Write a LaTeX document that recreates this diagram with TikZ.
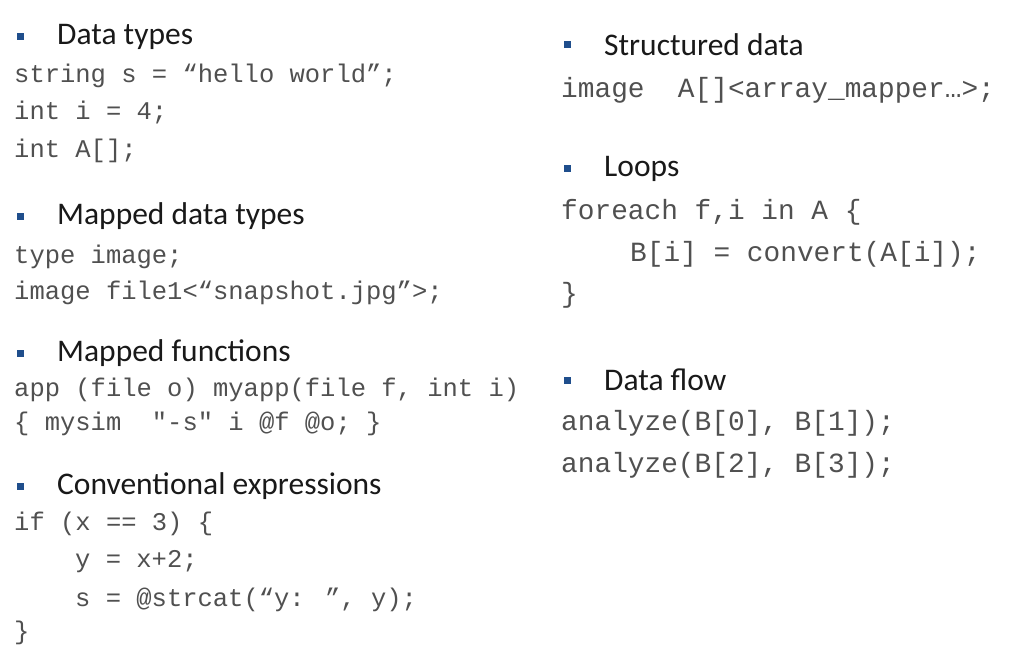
\documentclass[tikz,border=0pt]{standalone}
\usepackage{fontspec}
\setmainfont{Carlito}
\newfontfamily\codef{Liberation Mono}
\definecolor{bul}{HTML}{1F4E8C}
\definecolor{codec}{HTML}{505050}
\begin{document}
\begin{tikzpicture}[x=1pt,y=-1pt,
  head/.style={anchor=west,inner sep=0pt,font=\fontsize{31.5}{32}\selectfont,text=black!90},
  bl/.style={fill=bul,minimum size=7pt,inner sep=0pt},
  cl/.style={anchor=west,inner sep=0pt,font=\codef\fontsize{25.5}{26}\selectfont,text=codec},
  cr/.style={anchor=west,inner sep=0pt,font=\codef\fontsize{27.8}{28}\selectfont,text=codec}]
\useasboundingbox[fill=white] (0,0) rectangle (1024,663);
% left column
\node[bl] (b1) at (20,37) {}; \node[head] (h1) at (57,37) {Data types};
\node[cl] (l1) at (14,76) {string s = “hello world”;};
\node[cl] (l2) at (14,113) {int i = 4;};
\node[cl] (l3) at (14,151) {int A[];};
\node[bl] (b2) at (20,216) {}; \node[head] (h2) at (57,216) {Mapped data types};
\node[cl] (l4) at (14,257) {type image;};
\node[cl] (l5) at (14,293) {image file1<“snapshot.jpg”>;};
\node[bl] (b3) at (20,353) {}; \node[head] (h3) at (57,353) {Mapped functions};
\node[cl] (l6) at (14,390) {app (file o) myapp(file f, int i)};
\node[cl] (l7) at (14,424) {\{ mysim\ \ "-s" i @f @o; \}};
\node[bl] (b4) at (20,486) {}; \node[head] (h4) at (57,486) {Conventional expressions};
\node[cl] (l8) at (14,524) {if (x == 3) \{};
\node[cl] (l9) at (75,562) {y = x+2;};
\node[cl] (l10) at (75,600) {s = @strcat(“y: ”, y);};
\node[cl] (l11) at (14,633) {\}};
% right column
\node[bl] (b5) at (567,45) {}; \node[head] (h5) at (604,45) {Structured data};
\node[cr] (r1) at (561,90) {image\ \ A[]<array\_mapper…>;};
\node[bl] (b6) at (567,169) {}; \node[head] (h6) at (604,169) {Loops};
\node[cr] (r2) at (561,212) {foreach f,i in A \{};
\node[cr] (r3) at (630,254) {B[i] = convert(A[i]);};
\node[cr] (r4) at (561,295) {\}};
\node[bl] (b7) at (567,380) {}; \node[head] (h7) at (604,380) {Data flow};
\node[cr] (r5) at (561,423) {analyze(B[0], B[1]);};
\node[cr] (r6) at (561,465) {analyze(B[2], B[3]);};
\end{tikzpicture}
\end{document}
